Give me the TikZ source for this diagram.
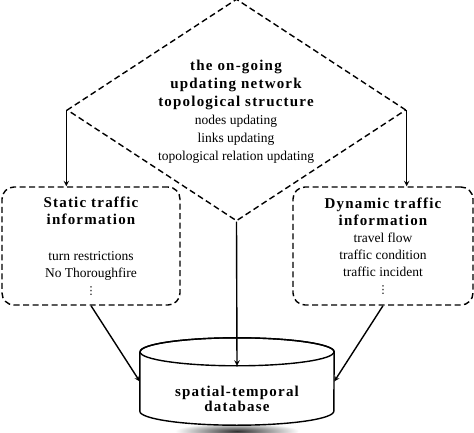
\documentclass[tikz,border=0pt]{standalone}
\usepackage{fontspec}
\setmainfont{Liberation Serif}
\newfontfamily\hdfont{Liberation Serif}[LetterSpace=8]
\newfontfamily\symfont{DejaVu Sans}
\usepackage{tikz}
\usetikzlibrary{shapes,arrows,positioning,calc}
\newcommand{\hd}[1]{{\hdfont\bfseries\fontsize{15}{18}\selectfont #1}}
\newcommand{\vd}{{\symfont\fontsize{11}{11}\selectfont ⋮}}

\begin{document}
\begin{tikzpicture}[x=1pt, y=1pt,
    dashbox/.style={rectangle, rounded corners=12pt, draw, dash pattern=on 6pt off 3.5pt, line width=1.4pt, minimum height=118pt, align=center, font=\fontsize{13.5}{17}\selectfont},
    arrow/.style={->, >=stealth, line width=1.4pt}
]
    \useasboundingbox (0,0) rectangle (474,432);
    \node[diamond, draw, dash pattern=on 6pt off 3.5pt, line width=1.4pt, minimum width=339pt, minimum height=222pt, inner sep=0pt] (upd) at (236.5,322) {};
    \node[align=center, font=\fontsize{13.5}{18}\selectfont] (updtext) at (236,320) {\hd{the on-going}\\\hd{updating network}\\\hd{topological structure}\\nodes updating\\links updating\\topological relation updating};
    \node[dashbox, minimum width=178pt] (static) at (91,186) {\hd{Static traffic}\\\hd{information}\\[19pt]turn restrictions\\No Thoroughfire\\\vd};
    \node[dashbox, minimum width=180pt] (dynamic) at (383,186) {\hd{Dynamic traffic}\\\hd{information}\\travel flow\\traffic condition\\traffic incident\\\vd};
    \node[minimum width=194pt, minimum height=59pt, inner sep=0pt] (db) at (237,50.5) {};
    \shade[inner color=black!80, outer color=white] (237,1) ellipse [x radius=62pt, y radius=8pt];
    \draw[line width=1.4pt, fill=white] (db.north west) -- (db.south west) arc[start angle=180, end angle=360, x radius=97pt, y radius=14pt] -- (db.north east) arc[start angle=0, end angle=180, x radius=97pt, y radius=14pt];
    \draw[line width=1.4pt] (db.north) ellipse [x radius=97pt, y radius=14pt];
    \node[align=center] (dbtext) at (237,33) {\hd{spatial-temporal}\\\hd{database}};

    \draw[arrow] (upd.west) -- (upd.west |- static.north);
    \draw[arrow] (upd.east) -- (upd.east |- dynamic.north);
    \draw[arrow] (upd.south) -- ($(db.north)+(0,-14)$);
    \draw[arrow] (static.south) -- (db.west);
    \draw[arrow] (dynamic.south) -- (db.east);
\end{tikzpicture}
\end{document}
